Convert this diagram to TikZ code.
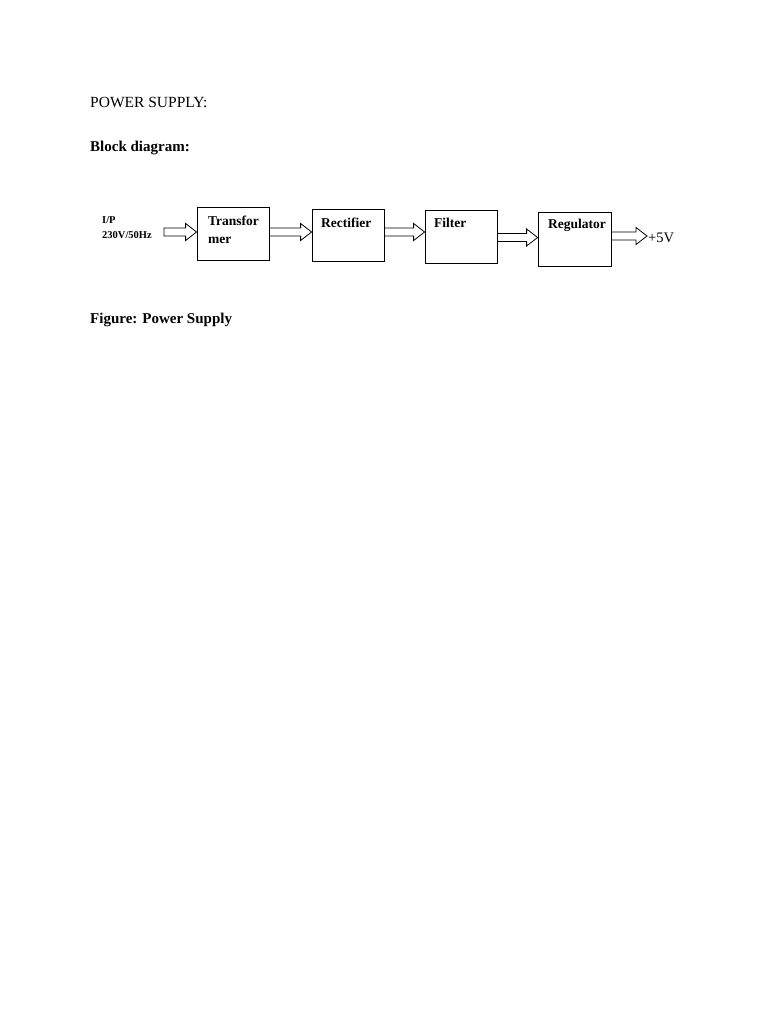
\documentclass[tikz,border=0pt]{standalone}
\usepackage{fontspec}
\setmainfont{Liberation Serif}
\usetikzlibrary{calc}
\begin{document}
\begin{tikzpicture}[x=1pt,y=-1pt,
    blok/.style={draw,line width=0.8pt,minimum width=72pt,minimum height=53pt,inner sep=0pt},
    lbl/.style={inner sep=0pt,font=\fontsize{13.5}{18}\selectfont\bfseries,align=left},
    head/.style={inner sep=0pt,anchor=base west,font=\fontsize{15}{18}\selectfont\bfseries},
    fat/.style={draw,line width=0.8pt,line join=miter}]
    \useasboundingbox (0,0) rectangle (768,1024);
    \begin{scope}

        \node [head,font=\fontsize{15.5}{18}\selectfont] (title) at (90,108) {POWER SUPPLY:};
        \node [head] (sub) at (90,152) {Block diagram:};
        \node [head] (cap) at (90,323) {Figure: Power Supply};

        % blocks
        \node [blok] (trans) at (233,233.5) {};
        \node [blok,minimum height=52pt] (rect) at (348,235) {};
        \node [blok] (filt) at (461,236.5) {};
        \node [blok,minimum width=73pt,minimum height=54pt] (reg) at (574.5,239) {};

        \node [lbl,anchor=north west] (tlbl) at (208,216) {Transfor\\mer};
        \node [lbl,anchor=base west] (rlbl) at (321,227) {Rectifier};
        \node [lbl,anchor=base west] (flbl) at (434,228) {Filter};
        \node [lbl,anchor=base west] (glbl) at (548,229) {Regulator};

        \node [lbl,anchor=north west,font=\fontsize{10.5}{15}\selectfont\bfseries] (ip) at (102,216) {I/P\\230V/50Hz};
        \coordinate (inp) at (164,232);
        \node [inner sep=1pt,anchor=base west,font=\fontsize{14.5}{18}\selectfont] (out) at (647,243) {+5V};

        % fat arrows
        \foreach \s/\e/\h in {inp/trans.west/232, trans.east/rect.west/232, rect.east/filt.west/232,
                              filt.east/reg.west/237.5, reg.east/out.west/236}{%
            \draw [fat] let \p1=(\s), \p2=(\e), \p3=(0,\h) in
                (\x1,\y3+4pt) -- (\x2-11pt,\y3+4pt) -- (\x2-11pt,\y3+8.5pt) -- (\x2,\y3)
                -- (\x2-11pt,\y3-8.5pt) -- (\x2-11pt,\y3-4pt) -- (\x1,\y3-4pt) -- cycle;}
    \end{scope}
\end{tikzpicture}
\end{document}
